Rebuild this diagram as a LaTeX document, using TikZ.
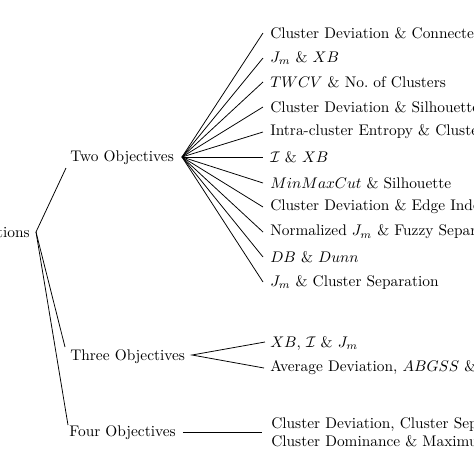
\documentclass[tikz,border=0pt]{standalone}
\begin{document}
\begin{tikzpicture}[x=0.65pt,y=-0.65pt,
  lab/.style={inner sep=0pt,font=\normalsize},
  leaf/.style={lab,anchor=west},
  edge/.style={draw=black,line width=0.5pt}]
\useasboundingbox (0,0) rectangle (474,474);
\clip (0,0) rectangle (474,474);
% root
\node[lab,anchor=east] (root) at (30,232) {Combinations};
\coordinate (r) at (36,232);
% level 1
\node[lab,anchor=west] (two) at (70,158) {Two Objectives};
\node[lab,anchor=west] (three) at (70,357) {Three Objectives};
\node[lab,anchor=west] (four) at (69,433) {Four Objectives};
\coordinate (twoIn) at (66,168);
\coordinate (threeIn) at (65,347);
\coordinate (fourIn) at (68,425);
\coordinate (twoOut) at (182,157);
\coordinate (threeOut) at (192,355);
\coordinate (fourOut) at (183,432);
\draw[edge] (twoIn) -- (r) -- (threeIn);
\draw[edge] (r) -- (fourIn);
% two-objective leaves
\foreach \i/\y/\t in {
 1/33/{Cluster Deviation \& Connectedness},
 2/58/{$J_m$ \& $XB$},
 3/82/{$TWCV$ \& No.\ of Clusters},
 4/107/{Cluster Deviation \& Silhouette},
 5/132/{Intra-cluster Entropy \& Cluster Separation},
 6/157/{$\mathcal{I}$ \& $XB$},
 7/183/{$MinMaxCut$ \& Silhouette},
 8/207/{Cluster Deviation \& Edge Index},
 9/232/{Normalized $J_m$ \& Fuzzy Separation},
 10/257/{$DB$ \& $Dunn$},
 11/282/{$J_m$ \& Cluster Separation}}{
  \node[leaf] (t\i) at (270,\y) {\t};
  \coordinate (ti\i) at (263,\y);
  \draw[edge] (twoOut) -- (ti\i);
}
% three-objective leaves
\node[leaf] (h1) at (270,343) {$XB$, $\mathcal{I}$ \& $J_m$};
\node[leaf] (h2) at (270,368) {Average Deviation, $ABGSS$ \& Connectedness};
\coordinate (hi1) at (265,342);
\coordinate (hi2) at (264,368);
\draw[edge] (hi1) -- (threeOut) -- (hi2);
% four-objective leaf
\node[leaf,align=left] (f1) at (271,432) {Cluster Deviation, Cluster Separation,\\Cluster Dominance \& Maximum Diameter};
\coordinate (fi1) at (262,432);
\draw[edge] (fourOut) -- (fi1);
\end{tikzpicture}
\end{document}
